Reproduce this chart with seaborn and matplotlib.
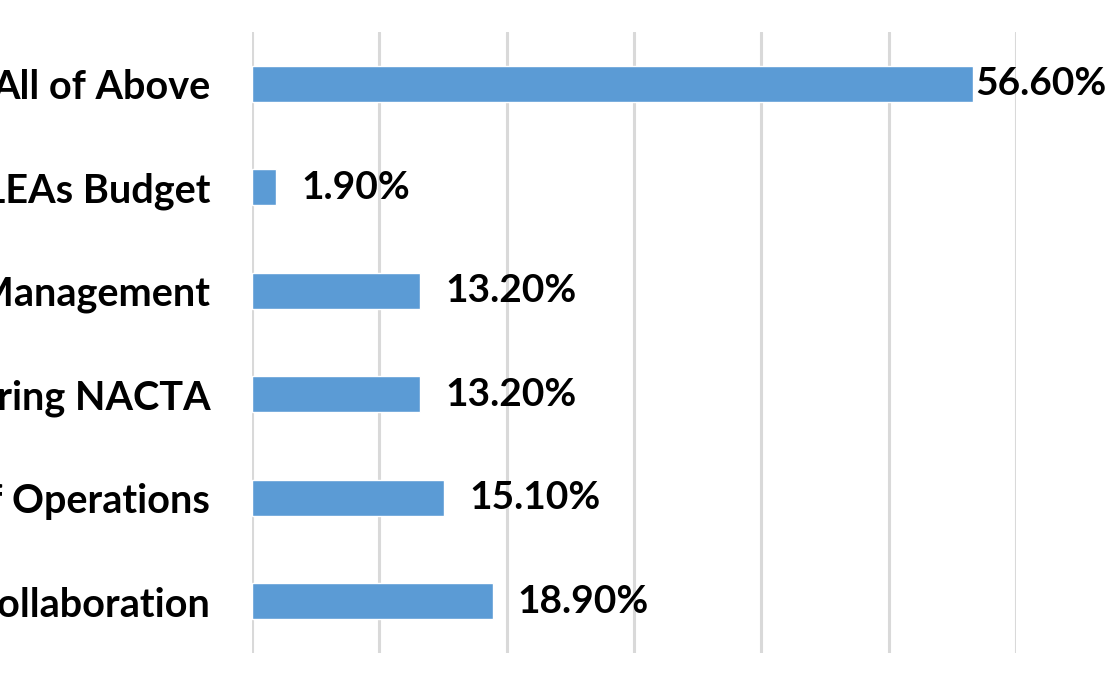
import matplotlib
matplotlib.use("Agg")
import matplotlib.pyplot as plt
import seaborn as sns
import pandas as pd

categories = [
    "All of Above",
    "Increase in LEAs Budget",
    "Better Management",
    "Empowering NACTA",
    "Coordination of Operations",
    "Inter-agency Collaboration",
]
values = [56.6, 1.9, 13.2, 13.2, 15.1, 18.9]
value_labels = ["56.60%", "1.90%", "13.20%", "13.20%", "15.10%", "18.90%"]

df = pd.DataFrame({"category": categories, "value": values})

sns.set_theme(style="white")
plt.rcParams["font.family"] = ["Lato", "DejaVu Sans"]

fig = plt.figure(figsize=(11.15, 6.8), dpi=100)
ax = fig.add_axes([252 / 1115, 1 - 653 / 680, (1016 - 252) / 1115, (653 - 32) / 680])

sns.barplot(data=df, x="value", y="category", orient="h", color="#5b9bd5",
            saturation=1, width=0.35, ax=ax)

ax.set_xlim(0, 60)
ax.set_xticks([0, 10, 20, 30, 40, 50, 60])
ax.xaxis.grid(True, color="#d9d9d9", linewidth=2.2)
ax.set_axisbelow(True)
ax.tick_params(axis="x", labelbottom=False, length=0)
ax.tick_params(axis="y", length=0, pad=30)
for s in ax.spines.values():
    s.set_visible(False)
ax.set_xlabel("")
ax.set_ylabel("")
for lbl in ax.get_yticklabels():
    lbl.set_fontsize(28.5)
    lbl.set_fontweight("bold")
    lbl.set_color("black")

for i, (v, t) in enumerate(zip(values, value_labels)):
    off = 25 if v < 50 else 3
    ax.annotate(t, xy=(v, i), xytext=(off * 0.72, 0), textcoords="offset points",
                ha="left", va="center", fontsize=28, fontweight="bold",
                color="black", annotation_clip=False)

fig.savefig("out.png", dpi=100)
